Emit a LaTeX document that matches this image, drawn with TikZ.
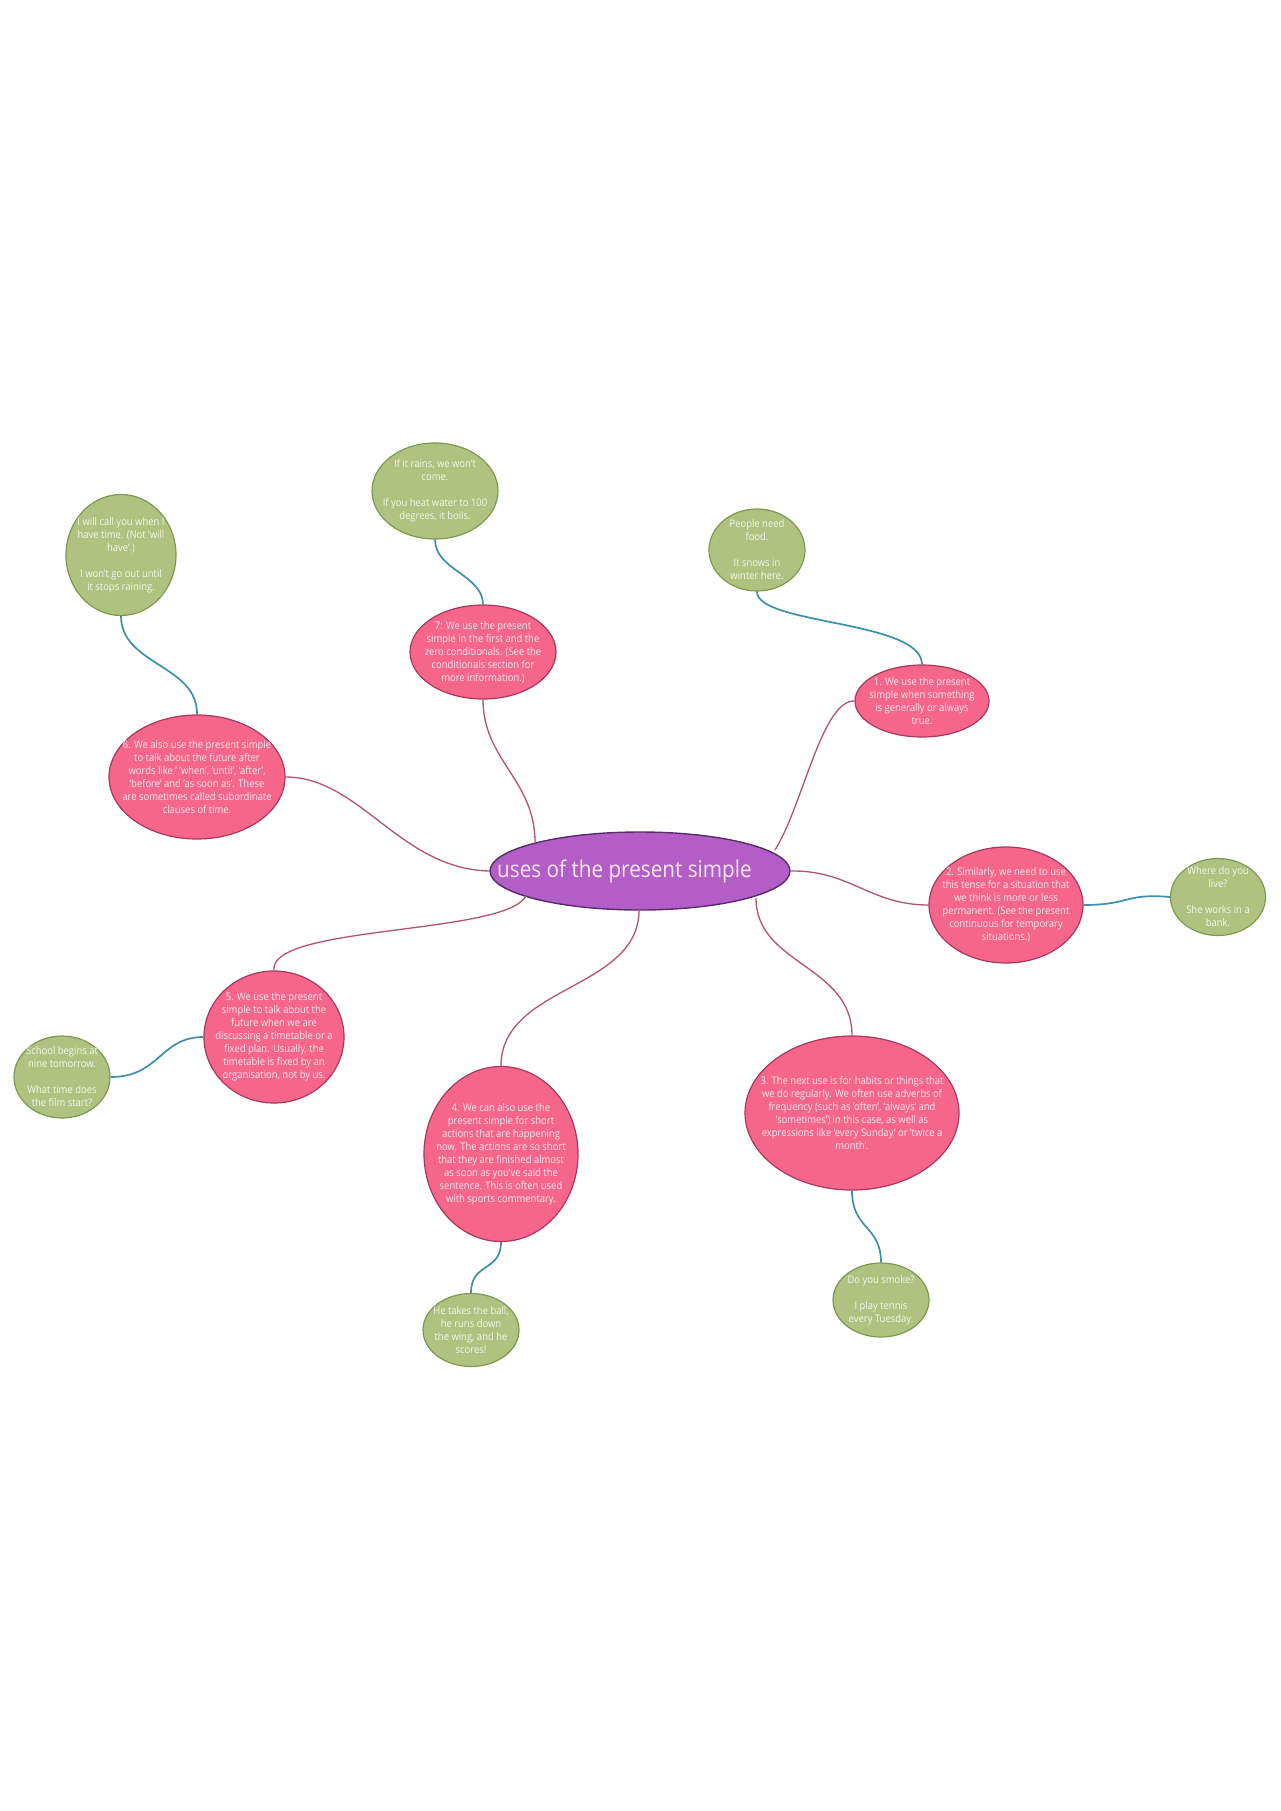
\documentclass[tikz,border=0pt]{standalone}
\usepackage{fontspec}
\setmainfont{Open Sans}[FakeStretch=0.9]
\usetikzlibrary{shapes.geometric}
\definecolor{pinkfill}{HTML}{F6668B}
\definecolor{pinkdraw}{HTML}{A8385E}
\definecolor{greenfill}{HTML}{AFC27F}
\definecolor{greendraw}{HTML}{7E9A50}
\definecolor{purplefill}{HTML}{B35EC6}
\definecolor{purpledraw}{HTML}{5B2A6E}
\definecolor{rose}{HTML}{B25470}
\definecolor{teal}{HTML}{3D90A8}
\definecolor{pinktxt}{HTML}{FDE8F0}
\definecolor{greentxt}{HTML}{F4F7EA}
\tikzset{
  pinkbox/.style={ellipse, fill=pinkfill, draw=pinkdraw, line width=1.2pt, inner sep=0pt},
  greenbox/.style={ellipse, fill=greenfill, draw=greendraw, line width=1.2pt, inner sep=0pt},
  centrebox/.style={ellipse, fill=purplefill, draw=purpledraw, line width=1.4pt, inner sep=0pt},
  pinktext/.style={text=pinktxt, align=center, inner sep=0pt, font=\fontsize{10.5}{13}\selectfont},
  greentext/.style={text=greentxt, align=center, inner sep=0pt, font=\fontsize{10.5}{13}\selectfont},
  mainlink/.style={draw=rose, line width=1.3pt},
  sublink/.style={draw=teal, line width=1.7pt},
}
\begin{document}
\begin{tikzpicture}[x=1pt,y=-1pt]
\useasboundingbox (0,0) rectangle (1280,1811);
\fill[white] (0,0) rectangle (1280,1811);

% ellipses
\node[centrebox, minimum width=300pt, minimum height=78pt] (c) at (640,871) {};
\node[pinkbox, minimum width=134pt, minimum height=72pt] (p1) at (922,701) {};
\node[pinkbox, minimum width=154pt, minimum height=116pt] (p2) at (1006,905) {};
\node[pinkbox, minimum width=214pt, minimum height=154pt] (p3) at (852,1113) {};
\node[pinkbox, minimum width=154pt, minimum height=175pt] (p4) at (501,1154) {};
\node[pinkbox, minimum width=140pt, minimum height=132pt] (p5) at (274,1037) {};
\node[pinkbox, minimum width=176pt, minimum height=124pt] (p6) at (197,777) {};
\node[pinkbox, minimum width=146pt, minimum height=94pt] (p7) at (483,652) {};
\node[greenbox, minimum width=96pt, minimum height=82pt] (gc) at (757,550) {};
\node[greenbox, minimum width=95pt, minimum height=77pt] (gd) at (1218,897) {};
\node[greenbox, minimum width=96pt, minimum height=74pt] (ge) at (881,1300) {};
\node[greenbox, minimum width=96pt, minimum height=73pt] (gf) at (471,1330) {};
\node[greenbox, minimum width=96pt, minimum height=82pt] (gg) at (62,1077) {};
\node[greenbox, minimum width=110pt, minimum height=121pt] (ga) at (121,555) {};
\node[greenbox, minimum width=126pt, minimum height=96pt] (gb) at (435,491) {};

% connector end points on the outlines
\coordinate (c1) at (775,850);
\coordinate (c4) at (639,910);
\coordinate (c3) at (756,898);
\coordinate (c5) at (526,896);
\coordinate (c7) at (535,842);

% connectors
\draw[mainlink] (c1) .. controls (803,805) and (822,700) .. (p1.west);
\draw[mainlink] (c.east) .. controls (850,870) and (870,905) .. (p2.west);
\draw[mainlink] (c3) .. controls (756,965) and (852,965) .. (p3.north);
\draw[mainlink] (c4) .. controls (639,990) and (501,985) .. (p4.north);
\draw[mainlink] (c5) .. controls (505,935) and (268,925) .. (p5.north);
\draw[mainlink] (c.west) .. controls (400,869) and (360,777) .. (p6.east);
\draw[mainlink] (c7) .. controls (535,780) and (483,760) .. (p7.south);

\draw[sublink] (p1.north) .. controls (922,620) and (757,625) .. (gc.south);
\draw[sublink] (p2.east) .. controls (1130,905) and (1125,893) .. (gd.west);
\draw[sublink] (p3.south) .. controls (852,1230) and (881,1225) .. (ge.north);
\draw[sublink] (p4.south) .. controls (501,1272) and (471,1262) .. (gf.north);
\draw[sublink] (p5.west) .. controls (160,1037) and (160,1077) .. (gg.east);
\draw[sublink] (p6.north) .. controls (198,665) and (121,665) .. (ga.south);
\draw[sublink] (p7.south |- p7.north) .. controls (483,575) and (435,570) .. (gb.south);

% texts
\node[text=pinktxt, inner sep=0pt, font=\fontsize{23}{28}\selectfont, anchor=west] (ct) at (497,871) {uses of the present simple};

\node[pinktext] (p1t) at (p1) {1. We use the present\\simple when something\\is generally or always\\true.};
\node[pinktext] (p2t) at (p2) {2. Similarly, we need to use\\this tense for a situation that\\we think is more or less\\permanent. (See the present\\continuous for temporary\\situations.)};
\node[pinktext] (p3t) at (p3) {3. The next use is for habits or things that\\we do regularly. We often use adverbs of\\frequency (such as 'often', 'always' and\\'sometimes') in this case, as well as\\expressions like 'every Sunday' or 'twice a\\month'.};
\node[pinktext] (p4t) at (p4) {4. We can also use the\\present simple for short\\actions that are happening\\now. The actions are so short\\that they are finished almost\\as soon as you've said the\\sentence. This is often used\\with sports commentary.};
\node[pinktext] (p5t) at (p5) {5. We use the present\\simple to talk about the\\future when we are\\discussing a timetable or a\\fixed plan. Usually, the\\timetable is fixed by an\\organisation, not by us.};
\node[pinktext] (p6t) at (p6) {6. We also use the present simple\\to talk about the future after\\words like ' 'when', 'until', 'after',\\'before' and 'as soon as'. These\\are sometimes called subordinate\\clauses of time.};
\node[pinktext] (p7t) at (p7) {7: We use the present\\simple in the first and the\\zero conditionals. (See the\\conditionals section for\\more information.)};

\node[greentext] (gct) at (gc) {People need\\food.\\~\\It snows in\\winter here.};
\node[greentext] (gdt) at (gd) {Where do you\\live?\\~\\She works in a\\bank.};
\node[greentext] (get) at (ge) {Do you smoke?\\~\\I play tennis\\every Tuesday.};
\node[greentext] (gft) at (gf) {He takes the ball,\\he runs down\\the wing, and he\\scores!};
\node[greentext] (ggt) at (gg) {School begins at\\nine tomorrow.\\~\\What time does\\the film start?};
\node[greentext] (gat) at (ga) {I will call you when I\\have time. (Not 'will\\have'.)\\~\\I won't go out until\\it stops raining.};
\node[greentext] (gbt) at (gb) {If it rains, we won't\\come.\\~\\If you heat water to 100\\degrees, it boils.};
\end{tikzpicture}
\end{document}
